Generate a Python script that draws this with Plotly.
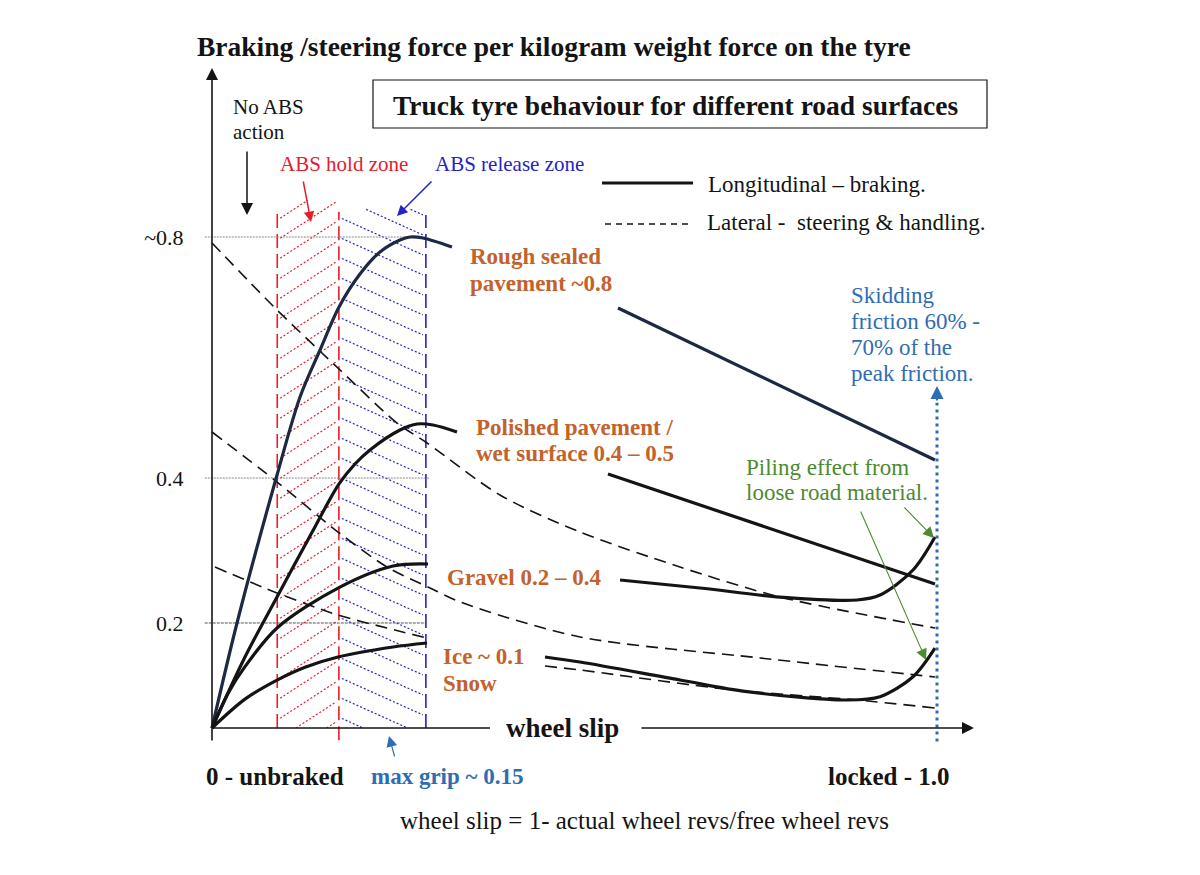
import plotly.graph_objects as go

W, H = 1200, 875
PX_PER_SLIP = 725.0      # pixels per unit of wheel slip
PX_PER_UNIT = 613.75     # pixels per unit of force ratio (schematic scale)
X_RANGE = [-212 / PX_PER_SLIP, (W - 212) / PX_PER_SLIP]
Y_RANGE = [-(H - 728) / PX_PER_UNIT, 728 / PX_PER_UNIT]

# ---------------- data ----------------
tick_vals = [0.1711, 0.4073, 0.8]
tick_text = ["0.2", "0.4", "~0.8"]
ref_line_end = [0.294, 0.300, 0.294]

hold_zone = [0.09, 0.175]
release_zone = [0.175, 0.295]
zone_top = [0.841, 0.836]
skid_slip = 1.0

# longitudinal (braking) curves, None = gap for the label
rough_x = [0, 0.0345, 0.0897, 0.1214, 0.149, 0.1752, 0.2041, 0.2317, 0.2593, 0.2731, 0.291, 0.331, None, 0.56, 0.9972]
rough_y = [0, 0.1711, 0.4122, 0.5393, 0.6159, 0.686, 0.7397, 0.7756, 0.7951, 0.8, 0.7984, 0.7837, None, 0.6843, 0.4367]

polished_x = [0, 0.0455, 0.0897, 0.1352, 0.1752, 0.1972, 0.2179, 0.2593, 0.2828, 0.3048, 0.3379, None, 0.5462, 0.9972]
polished_y = [0, 0.1157, 0.2134, 0.3128, 0.3976, 0.4301, 0.4530, 0.4855, 0.4953, 0.4937, 0.4823, None, 0.4138, 0.2346]

gravel_x = [0, 0.0228, 0.0455, 0.0897, 0.1738, 0.2497, 0.2979, None, 0.5628, 0.6731, 0.7834, 0.8897, 0.9214, 0.9669, 0.9972]
gravel_y = [0, 0.058, 0.100, 0.163, 0.228, 0.2639, 0.2672, None, 0.2411, 0.2281, 0.2134, 0.2086, 0.2167, 0.2574, 0.3112]

ice_x = [0, 0.0455, 0.0897, 0.1283, 0.1738, 0.2497, 0.2966, None, 0.4593, 0.5076, 0.6455, 0.7379, 0.8759, 0.9214, 0.9669, 0.9972]
ice_y = [0, 0.047, 0.078, 0.099, 0.1157, 0.132, 0.1385, None, 0.1157, 0.1075, 0.0782, 0.0592, 0.0456, 0.051, 0.0836, 0.1303]

# lateral (steering) curves
lat1_x = [0, 0.0897, 0.1766, 0.2552, 0.2966, 0.3972, 0.5076, 0.6455, 0.7834, 0.9972]
lat1_y = [0.7902, 0.6811, 0.5833, 0.4969, 0.4644, 0.3796, 0.3193, 0.2623, 0.2134, 0.1629]

lat2_x = [0, 0.0897, 0.1738, 0.2414, 0.3007, 0.3421, 0.5076, 0.7559, 0.9972]
lat2_y = [0.4823, 0.4008, 0.3193, 0.2623, 0.2281, 0.2053, 0.1483, 0.1141, 0.0831]

lat3_x = [0.0041, 0.0897, 0.1738, 0.2414, 0.2966, None, 0.4593, 0.5076, 0.7186, 0.8897, 0.9972]
lat3_y = [0.2623, 0.22, 0.1841, 0.1629, 0.1466, None, 0.101, 0.0945, 0.0619, 0.0456, 0.0326]

# ---------------- styles ----------------
SERIF = "Liberation Serif, Times New Roman, serif"
BROWN = "#c2622c"
RED = "#e3202b"
BLUE = "#2424c4"
SKY = "#2f6db3"
GREEN = "#4c8a2f"
INK = "#141414"
NAVY = "#1d2943"


def P(px, py):
    return px / W, 1 - py / H


def hatch_segments(x0, x1, top, slope_px, gap_px, direction, inset_px=3):
    u0 = x0 * PX_PER_SLIP + inset_px
    u1 = x1 * PX_PER_SLIP - inset_px
    vt = top * PX_PER_UNIT
    width = u1 - u0
    xs, ys = [], []
    c = -slope_px * width - gap_px + 6
    while c <= vt + slope_px * width + gap_px:
        ua = u0 + (0 - c) / (direction * slope_px)
        ub = u0 + (vt - c) / (direction * slope_px)
        lo = max(u0, min(ua, ub))
        hi = min(u1, max(ua, ub))
        if hi - lo > 3:
            for u in (lo, hi):
                v = c + direction * slope_px * (u - u0)
                xs.append(u / PX_PER_SLIP)
                ys.append(v / PX_PER_UNIT)
            xs.append(None)
            ys.append(None)
        c += gap_px
    return xs, ys


fig = go.Figure()

# hatching of ABS zones
hx, hy = hatch_segments(hold_zone[0], hold_zone[1], 0.86, 0.65, 20, +1)
fig.add_trace(go.Scatter(x=hx, y=hy, mode="lines", line=dict(color=RED, width=1.2, dash="2px,2px"), hoverinfo="skip"))
bx, by = hatch_segments(release_zone[0], release_zone[1], 0.845, 0.45, 20, -1)
fig.add_trace(go.Scatter(x=bx, y=by, mode="lines", line=dict(color=BLUE, width=1.2, dash="2px,2px"), hoverinfo="skip"))

# zone boundaries
fig.add_trace(go.Scatter(x=[hold_zone[0], hold_zone[0]], y=[0, zone_top[0]], mode="lines",
                         line=dict(color=RED, width=1.6, dash="14px,6px"), hoverinfo="skip"))
fig.add_trace(go.Scatter(x=[hold_zone[1], hold_zone[1]], y=[-0.02, zone_top[0]], mode="lines",
                         line=dict(color=RED, width=1.6, dash="14px,6px"), hoverinfo="skip"))
fig.add_trace(go.Scatter(x=[release_zone[1], release_zone[1]], y=[0, zone_top[1]], mode="lines",
                         line=dict(color=BLUE, width=1.6, dash="14px,6px"), hoverinfo="skip"))

# reference lines at tick levels
for tv, xe, st in zip(tick_vals, ref_line_end, ["3px,1px", "2px,1px", "2px,1px"]):
    fig.add_trace(go.Scatter(x=[-0.01, xe], y=[tv, tv], mode="lines",
                             line=dict(color="#555" if tv < 0.2 else "#888", width=1, dash=st), hoverinfo="skip"))

# lateral dashed curves
for lx, ly in [(lat1_x, lat1_y), (lat2_x, lat2_y), (lat3_x, lat3_y)]:
    fig.add_trace(go.Scatter(x=lx, y=ly, mode="lines", line=dict(color=INK, width=1.6, dash="12px,7px", shape="spline", smoothing=0.8),
                             connectgaps=False, hoverinfo="skip"))

# longitudinal solid curves
for cx, cy, col in [(rough_x, rough_y, NAVY), (polished_x, polished_y, INK), (gravel_x, gravel_y, INK), (ice_x, ice_y, INK)]:
    fig.add_trace(go.Scatter(x=cx, y=cy, mode="lines", line=dict(color=col, width=3.2, shape="spline", smoothing=0.9),
                             connectgaps=False, hoverinfo="skip"))

# skidding dotted line
fig.add_trace(go.Scatter(x=[skid_slip, skid_slip], y=[-0.022, 0.53], mode="lines",
                         line=dict(color=SKY, width=3, dash="3px,4px"), hoverinfo="skip"))

shapes = []
# x axis left part
x0p, y0p = P(212, 728)
x1p, _ = P(490, 728)
shapes.append(dict(type="line", xref="paper", yref="paper", x0=x0p, y0=y0p, x1=x1p, y1=y0p, line=dict(color=INK, width=1.6)))
# title box
bx0, by0 = P(373, 128)
bx1, by1 = P(987, 80)
shapes.append(dict(type="rect", xref="paper", yref="paper", x0=bx0, y0=by0, x1=bx1, y1=by1, line=dict(color=INK, width=1.2)))
# legend lines
lx0, ly0 = P(602, 183)
lx1, _ = P(693, 183)
shapes.append(dict(type="line", xref="paper", yref="paper", x0=lx0, y0=ly0, x1=lx1, y1=ly0, line=dict(color=INK, width=3)))
lx0, ly0 = P(605, 224)
lx1, _ = P(690, 224)
shapes.append(dict(type="line", xref="paper", yref="paper", x0=lx0, y0=ly0, x1=lx1, y1=ly0, line=dict(color=INK, width=1.3, dash="6px,5px")))

ann = []


def arrow(tail, tip, color, width=1.5, size=1.5, head=2):
    x, y = P(*tip)
    ann.append(dict(xref="paper", yref="paper", x=x, y=y, ax=tail[0] - tip[0], ay=tail[1] - tip[1],
                    text="", showarrow=True, arrowhead=head, arrowsize=size, arrowwidth=width,
                    arrowcolor=color, standoff=0, startstandoff=0))


def text(s, px, py, size, color=INK, bold=False, anchor="left"):
    x, y = P(px, py)
    ann.append(dict(xref="paper", yref="paper", x=x, y=y, text=f"<b>{s}</b>" if bold else s,
                    showarrow=False, xanchor=anchor, yanchor="middle",
                    font=dict(family=SERIF, size=size, color=color)))


# axes arrows
arrow((212, 742), (212, 68), INK, width=1.6, size=1.5)
arrow((640, 728), (974, 728), INK, width=1.6, size=1.5)
# annotation arrows
arrow((247, 150), (247, 215), INK, width=1.5, size=1.6)
arrow((303, 180), (311, 222), RED, width=1.5, size=1.4)
arrow((433, 180), (397, 216), BLUE, width=1.5, size=1.4)
arrow((860, 510), (926, 660), GREEN, width=1.1, size=2.0)
arrow((903, 506), (934, 538), GREEN, width=1.1, size=2.0)
arrow((937, 402), (937, 386), SKY, width=2, size=1.3)
arrow((395, 758), (389, 736), SKY, width=1.2, size=1.8)

# texts
text("Braking /steering force per kilogram weight force on the tyre", 195, 46, 27.5, bold=True)
text("Truck tyre behaviour for different road surfaces", 676, 105, 27.5, bold=True, anchor="center")
text("No ABS", 231, 107, 21)
text("action", 231, 132, 21)
text("ABS hold zone", 344, 164, 21, RED, anchor="center")
text("ABS release zone", 509, 164, 21, BLUE, anchor="center")
text("Longitudinal – braking.", 706, 185, 23)
text("Lateral -  steering &amp; handling.", 705, 222, 23)
text("Rough sealed", 468, 256, 23, BROWN, bold=True)
text("pavement ~0.8", 468, 283, 23, BROWN, bold=True)
text("Polished pavement /", 474, 427, 23, BROWN, bold=True)
text("wet surface 0.4 – 0.5", 474, 453, 23, BROWN, bold=True)
text("Gravel 0.2 – 0.4", 445, 577, 23, BROWN, bold=True)
text("Ice ~ 0.1", 441, 656, 23, BROWN, bold=True)
text("Snow", 441, 683, 23, BROWN, bold=True)
for i, line in enumerate(["Skidding", "friction 60% -", "70% of the", "peak friction."]):
    text(line, 849, 295 + 26 * i, 23, SKY)
text("Piling effect from", 744, 467, 23, GREEN)
text("loose road material.", 744, 493, 23, GREEN)
text("wheel slip", 562, 728, 27, bold=True, anchor="center")
text("0 - unbraked", 204, 776, 25, bold=True)
text("max grip ~ 0.15", 369, 776, 23, SKY, bold=True)
text("locked - 1.0", 826, 776, 25, bold=True)
text("wheel slip = 1- actual wheel revs/free wheel revs", 398, 820, 25)

fig.update_layout(
    width=W, height=H, margin=dict(l=0, r=0, t=0, b=0),
    paper_bgcolor="white", plot_bgcolor="white", showlegend=False,
    xaxis=dict(range=X_RANGE, visible=False, fixedrange=True),
    yaxis=dict(range=Y_RANGE, anchor="free", position=212 / W, automargin=False,
               tickvals=tick_vals, ticktext=tick_text, ticks="outside", ticklen=24,
               tickcolor="rgba(0,0,0,0)", showline=False, showgrid=False, zeroline=False,
               tickfont=dict(family=SERIF, size=22, color=INK), fixedrange=True),
    shapes=shapes, annotations=ann,
)

fig.write_html("out.html", post_script="document.body.style.margin='0';")
